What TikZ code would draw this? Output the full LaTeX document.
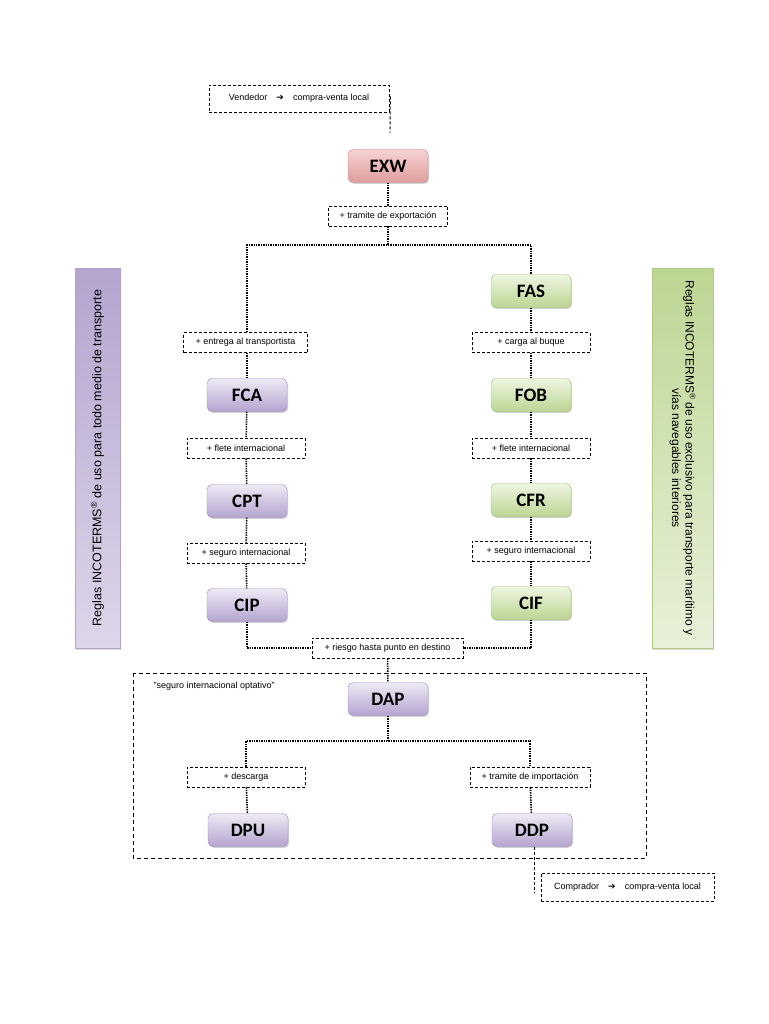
\documentclass[tikz,border=0pt]{standalone}
\usepackage{fontspec}
\setmainfont{Liberation Sans}
\newfontfamily\boxfont{Carlito}
\newfontfamily\symfont{DejaVu Sans}
\usetikzlibrary{shadows}
\definecolor{lilaT}{HTML}{EEEAF5}
\definecolor{lilaB}{HTML}{B4A4CF}
\definecolor{lilaD}{HTML}{9D8BBD}
\definecolor{verdeT}{HTML}{EEF5E2}
\definecolor{verdeB}{HTML}{BCD693}
\definecolor{verdeD}{HTML}{9DBE65}
\definecolor{rojoT}{HTML}{F6D3D3}
\definecolor{rojoB}{HTML}{E09C9C}
\definecolor{rojoD}{HTML}{C97D7D}

\begin{document}
\begin{tikzpicture}[x=1pt, y=-1pt,
  termbox/.style={rounded corners=5pt, minimum width=80pt, minimum height=33pt,
    font=\boxfont\bfseries\fontsize{19}{21}\selectfont,
    drop shadow={shadow xshift=1.2pt, shadow yshift=-1.5pt, opacity=0.35}},
  lila/.style={termbox, draw=lilaD, top color=lilaT, bottom color=lilaB},
  verde/.style={termbox, draw=verdeD, top color=verdeT, bottom color=verdeB},
  rojo/.style={termbox, draw=rojoD, top color=rojoT, bottom color=rojoB},
  paso/.style={draw, dash pattern=on 3pt off 2pt, line width=0.8pt, fill=white,
    font=\fontsize{9}{10}\selectfont, minimum height=20pt, minimum width=#1, inner sep=2pt},
  paso/.default=118pt,
  enlace/.style={line width=1.6pt, dash pattern=on 1.4pt off 1pt},
  guia/.style={line width=0.9pt, dash pattern=on 3pt off 2pt}]
\useasboundingbox (0,0) rectangle (768,1024);

% banners
\node[rotate=90, minimum width=380pt, minimum height=45pt, draw=lilaD!80,
  top color=lilaB, bottom color=lilaB!45, font=\fontsize{12.5}{14}\selectfont,
  drop shadow={shadow xshift=1.2pt, shadow yshift=-1.5pt, opacity=0.3}]
  (todo) at (97.5,458) {Reglas INCOTERMS\textsuperscript{®} de uso para todo medio de transporte};
\node[rotate=-90, minimum width=380pt, minimum height=61pt, draw=verdeD!80,
  top color=verdeB, bottom color=verdeB!35, align=center, font=\fontsize{12}{13.5}\selectfont,
  drop shadow={shadow xshift=1.2pt, shadow yshift=-1.5pt, opacity=0.3}]
  (mar) at (682.5,458) {Reglas INCOTERMS\textsuperscript{®} de uso exclusivo para transporte marítimo y\\vías navegables interiores};

% zona D
\draw[guia, dash pattern=on 4pt off 3pt] (133,673) rectangle (646,858);
\node[anchor=west, font=\fontsize{9}{10}\selectfont] (opt) at (150,686) {"seguro internacional optativo"};

% terminos
\node[rojo] (exw) at (388,166) {EXW};
\node[verde] (fas) at (531,291) {FAS};
\node[lila] (fca) at (247,395) {FCA};
\node[verde] (fob) at (531,395) {FOB};
\node[lila] (cpt) at (247,501) {CPT};
\node[verde] (cfr) at (531,500) {CFR};
\node[lila] (cip) at (247,605) {CIP};
\node[verde] (cif) at (531,603) {CIF};
\node[lila] (dap) at (388,699) {DAP};
\node[lila] (dpu) at (248,830) {DPU};
\node[lila] (ddp) at (532,830) {DDP};

% pasos
\node[paso=180pt, minimum height=27pt] (vend) at (299,98.5)
  {Vendedor\hspace{9pt}{\symfont\fontsize{9}{10}\selectfont ➔}\hspace{9pt}compra-venta local};
\node[paso=119pt] (expo) at (388,216) {+ tramite de exportación};
\node[paso=124pt] (entr) at (245.5,342.5) {+ entrega al transportista};
\node[paso] (buque) at (531,342.5) {+ carga al buque};
\node[paso] (fleteA) at (246,448) {+ flete internacional};
\node[paso] (fleteB) at (531,448) {+ flete internacional};
\node[paso] (segA) at (246,553) {+ seguro internacional};
\node[paso] (segB) at (531,551) {+ seguro internacional};
\node[paso=151pt] (riesgo) at (387.5,648) {+ riesgo hasta punto en destino};
\node[paso] (desc) at (246,777) {+ descarga};
\node[paso=120pt] (impo) at (530,777) {+ tramite de importación};
\node[paso=173pt, minimum height=28pt] (comp) at (627.5,887)
  {Comprador\hspace{9pt}{\symfont\fontsize{9}{10}\selectfont ➔}\hspace{9pt}compra-venta local};

\coordinate (r1) at (388,245);
\coordinate (r2) at (388,741);
\coordinate (vfin) at (390,133);
\coordinate (cfin) at (534,893);

% enlaces
\draw[guia] (vend.east) ++(1,-2) coordinate (vini) -- (vfin);
\draw[enlace] (exw) -- (expo);
\draw[enlace] (expo) -- (r1);
\draw[enlace] (fca.north |- entr.north) |- (r1) -| (fas.north);
\draw[enlace] (fas) -- (buque);
\draw[enlace] (fca.north |- entr.south) -- (fca);
\draw[enlace] (buque) -- (fob);
\draw[enlace] (fca) -- (fleteA);
\draw[enlace] (fob) -- (fleteB);
\draw[enlace] (fleteA) -- (cpt);
\draw[enlace] (fleteB) -- (cfr);
\draw[enlace] (cpt) -- (segA);
\draw[enlace] (cfr) -- (segB);
\draw[enlace] (segA) -- (cip);
\draw[enlace] (segB) -- (cif);
\draw[enlace] (cip.south) |- (riesgo.west);
\draw[enlace] (cif.south) |- (riesgo.east);
\draw[enlace] (riesgo) -- (dap);
\draw[enlace] (dap) -- (r2);
\draw[enlace] (desc.north) |- (r2) -| (impo.north);
\draw[enlace] (desc) -- (dpu);
\draw[enlace] (impo) -- (ddp);
\draw[guia] (ddp.south) ++(2,0) -- (cfin);
\end{tikzpicture}
\end{document}
